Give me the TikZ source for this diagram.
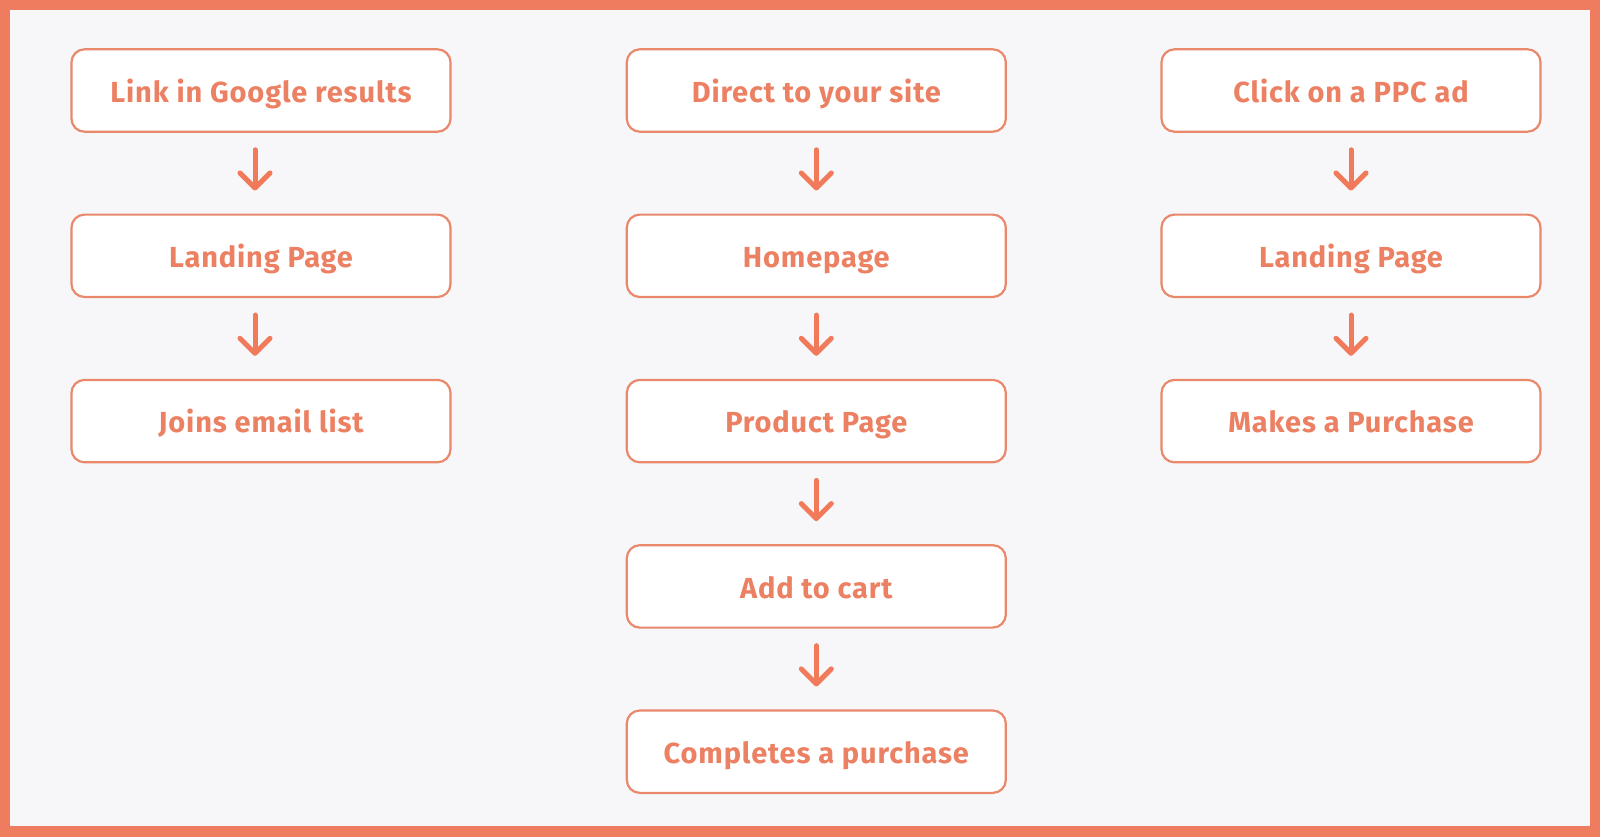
\documentclass[tikz,border=0pt]{standalone}
\usepackage{fontspec}
\setmainfont{Fira Sans}
\newfontfamily\boxfont[LetterSpace=3]{Fira Sans}
\usetikzlibrary{arrows.meta}
\definecolor{frame}{RGB}{240,124,96}
\definecolor{bg}{RGB}{247,247,249}
\definecolor{boxline}{RGB}{234,136,108}
\definecolor{txt}{RGB}{236,128,98}
\definecolor{arr}{RGB}{240,122,90}
\tikzset{
  stepbox/.style={draw=boxline, line width=2.2pt, fill=white, rounded corners=13pt,
    minimum width=379pt, minimum height=82.4pt, inner sep=0pt,
    text height=23.4pt, text depth=0pt,
    font=\boxfont\fontsize{29}{33}\selectfont\bfseries, text=txt},
  flow/.style={draw=arr, line width=5pt, line cap=round,
    -{Straight Barb[length=15pt,width=30pt,line cap=round,line join=round]},
    shorten <=17pt, shorten >=23pt}
}
\begin{document}
\begin{tikzpicture}[x=1pt,y=-1pt]
\fill[frame] (0,0) rectangle (1600,837);
\fill[bg] (10,10) rectangle (1590,826);
\useasboundingbox (0,0) rectangle (1600,837);
% left column
\node[stepbox] (l1) at (261,90.5) {Link in Google results};
\node[stepbox] (l2) at (261,255.8) {Landing Page};
\node[stepbox] (l3) at (261,421.1) {Joins email list};
% middle column
\node[stepbox] (m1) at (816.3,90.5) {Direct to your site};
\node[stepbox] (m2) at (816.3,255.8) {Homepage};
\node[stepbox] (m3) at (816.3,421.1) {Product Page};
\node[stepbox] (m4) at (816.3,586.4) {Add to cart};
\node[stepbox] (m5) at (816.3,751.7) {Completes a purchase};
% right column
\node[stepbox] (r1) at (1351,90.5) {Click on a PPC ad};
\node[stepbox] (r2) at (1351,255.8) {Landing Page};
\node[stepbox] (r3) at (1351,421.1) {Makes a Purchase};
\draw[flow] ([xshift=-6pt]l1.south) -- ([xshift=-6pt]l2.north);
\draw[flow] ([xshift=-6pt]l2.south) -- ([xshift=-6pt]l3.north);
\draw[flow] (m1) -- (m2);
\draw[flow] (m2) -- (m3);
\draw[flow] (m3) -- (m4);
\draw[flow] (m4) -- (m5);
\draw[flow] (r1) -- (r2);
\draw[flow] (r2) -- (r3);
\end{tikzpicture}
\end{document}
